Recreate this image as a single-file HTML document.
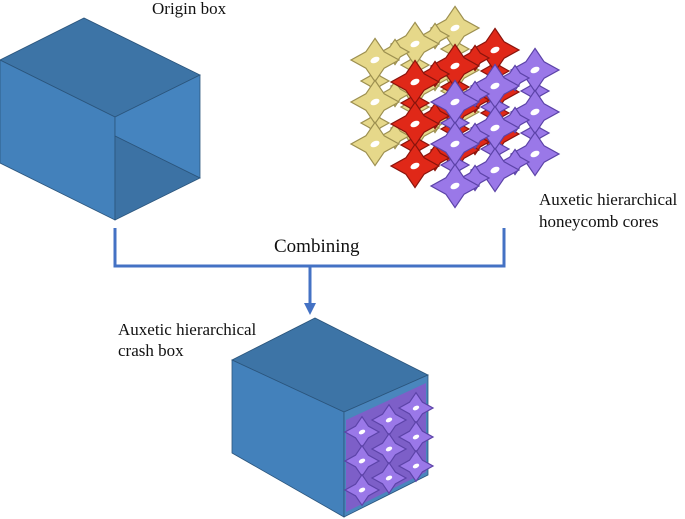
<!DOCTYPE html>
<html><head><meta charset="utf-8"><style>
body{margin:0;background:#fff;width:685px;height:519px;overflow:hidden}
svg{display:block}
text{font-family:"Liberation Serif",serif;fill:#111}
</style></head><body>
<svg id="s" width="685" height="519" viewBox="0 0 685 519" xmlns="http://www.w3.org/2000/svg">
<polygon points="0,60 84,18 200,75 115,117" fill="#3d74a6" stroke="#2b557c" stroke-width="0.8"/>
<polygon points="0,60 115,117 115,220 0,163" fill="#4381bb" stroke="#2b557c" stroke-width="0.8"/>
<polygon points="115,117 200,75 200,178 115,136" fill="#4584bf" stroke="#2b557c" stroke-width="0.8"/>
<polygon points="115,136 200,178 115,220" fill="#3c72a4" stroke="#2b557c" stroke-width="0.8"/>
<text x="152" y="14" font-size="17">Origin box</text>
<g id="lat"></g>
<text x="539" y="205" font-size="17">Auxetic hierarchical</text>
<text x="539" y="227" font-size="17">honeycomb cores</text>
<polyline points="115,228 115,266 504,266 504,228" fill="none" stroke="#4472c4" stroke-width="3"/>
<line x1="310" y1="266" x2="310" y2="305" stroke="#4472c4" stroke-width="3"/>
<polygon points="304,303 316,303 310,315" fill="#4472c4"/>
<text x="274" y="252" font-size="19">Combining</text>
<text x="118" y="335" font-size="17">Auxetic hierarchical</text>
<text x="118" y="356" font-size="17">crash box</text>
<polygon points="232,360 315,318 428,375 344,412" fill="#3d74a6" stroke="#2b557c" stroke-width="0.8"/>
<polygon points="232,360 344,412 344,517 232,453" fill="#4381bb" stroke="#2b557c" stroke-width="0.8"/>
<polygon points="344,412 428,375 428,475 344,517" fill="#4a86bd" stroke="#2b557c" stroke-width="0.8"/>
<g id="lat2"></g>
</svg>
<script>
function star(cx,cy,r,col,dark,hole){
 var w=r*0.38,p=[[0,-r],[w,-w],[r,0],[w,w],[0,r],[-w,w],[-r,0],[-w,-w]];
 var s='<polygon points="'+p.map(function(q){return (cx+q[0])+','+(cy+q[1]*0.9)}).join(' ')+'" fill="'+col+'" stroke="'+dark+'" stroke-width="1.2"/>';
 if(hole)s+='<ellipse cx="'+cx+'" cy="'+cy+'" rx="'+(r*0.2)+'" ry="'+(r*0.12)+'" fill="#fff" transform="rotate(-25 '+cx+' '+cy+')"/>';
 return s;
}
var L=[["#e6d88a","#9d9050",375,60],["#e02818","#8a140c",415,82],["#9a78e8","#5c43a8",455,102]];
var h='';
L.forEach(function(l){
 for(var c=2;c>=0;c--){
  for(var k=0;k<3;k++){
   if(k<2)h+=star(l[2]+c*40,l[3]-c*16+k*42+21,14,l[0],l[1],false);
   if(c<2)h+=star(l[2]+c*40+20,l[3]-c*16-8+k*42,14,l[0],l[1],false);
  }
  for(var k=0;k<3;k++) h+=star(l[2]+c*40,l[3]-c*16+k*42,24,l[0],l[1],true);
 }
});
document.getElementById('lat').innerHTML=h;
var h2='<polygon points="346,420 426,383 426,472 346,512" fill="#7d5fc8"/>';
for(var c=2;c>=0;c--)for(var k=0;k<3;k++){
 h2+=star(362+c*27,432-c*12+k*29,17,"#9a78e8","#5c43a8",true);
}
document.getElementById('lat2').innerHTML=h2;
</script>
</body></html>
